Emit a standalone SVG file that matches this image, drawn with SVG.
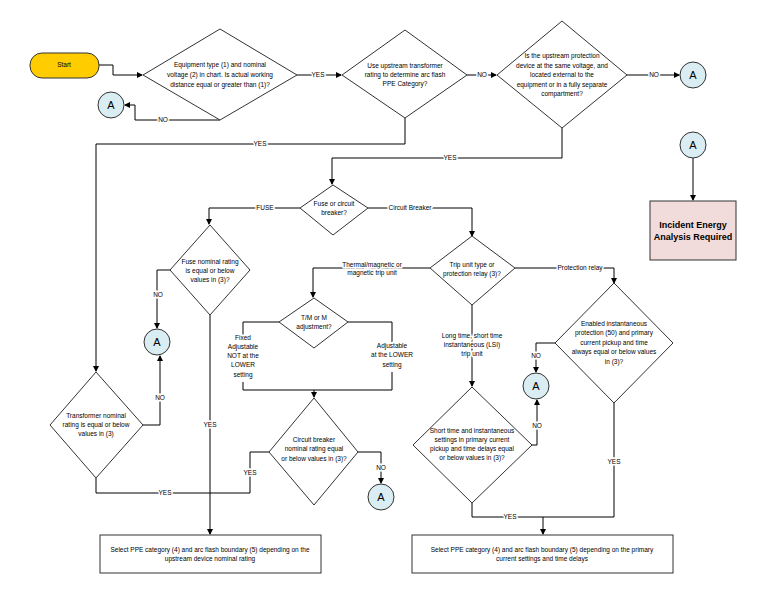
<svg xmlns="http://www.w3.org/2000/svg" width="768" height="594" viewBox="0 0 768 594">
<defs>
<marker id="ar" markerWidth="6" markerHeight="6" refX="5" refY="3" orient="auto" markerUnits="userSpaceOnUse"><path d="M0,0 L6,3 L0,6 z" fill="#000"/></marker>
<style>
.s{fill:#fff;stroke:#333;stroke-width:1}
.c{fill:#d9edf3;stroke:#333;stroke-width:1}
.l{fill:none;stroke:#000;stroke-width:1;marker-end:url(#ar)}
.n{fill:none;stroke:#000;stroke-width:1}
text{font-family:"Liberation Sans",Arial,sans-serif;font-size:6.5px;text-anchor:middle;fill:#000}
.a{font-size:11px}
.lb{paint-order:stroke;stroke:#fff;stroke-width:3px}
.b{font-weight:bold;font-size:9px}
</style>
</defs>
<rect width="768" height="594" fill="#fff"/>
<g id="connectors">
<path class="l" d="M99,65 H113 V75 H142"/>
<path class="l" d="M220,120 H135 V105 H125"/>
<path class="l" d="M297,75 H341"/>
<path class="l" d="M405,118 V144 H96 V371"/>
<path class="l" d="M467,75 H496"/>
<path class="l" d="M627,75 H679"/>
<path class="l" d="M562,128 V158 H332 V184"/>
<path class="l" d="M693,158 V200"/>
<path class="l" d="M300,208 H209 V224"/>
<path class="l" d="M368,208 H472 V236"/>
<path class="l" d="M170,270 H157 V328"/>
<path class="l" d="M143,425 H160 V356"/>
<path class="l" d="M210,315 V534"/>
<path class="n" d="M96,478 V493 H250 V452 H269"/>
<path class="l" d="M358,452 H381 V483"/>
<path class="l" d="M430,268 H313 V297"/>
<path class="l" d="M515,268 H614 V283"/>
<path class="n" d="M279,322 H243 V340"/>
<path class="n" d="M348,322 H392 V342"/>
<path class="n" d="M243,382 V390 H392 V372"/>
<path class="l" d="M314,390 V397"/>
<path class="l" d="M472,305 V386"/>
<path class="l" d="M532,445 H537 V400"/>
<path class="l" d="M555,343 H536 V372"/>
<path class="n" d="M614,403 V517 H472 V503"/>
<path class="l" d="M543,517 V534"/>
<text x="318" y="77" class="lb">YES</text>
<text x="482" y="77" class="lb">NO</text>
<text x="654" y="77" class="lb">NO</text>
<text x="163" y="122" class="lb">NO</text>
<text x="260" y="146" class="lb">YES</text>
<text x="450" y="160" class="lb">YES</text>
<text x="265" y="210" class="lb">FUSE</text>
<text x="410" y="210" class="lb">Circuit Breaker</text>
<text x="580" y="270" class="lb">Protection relay</text>
<text x="372" y="267" class="lb">Thermal/magnetic or</text>
<text x="372" y="275" class="lb">magnetic trip unit</text>
<text x="158" y="297" class="lb">NO</text>
<text x="160" y="400" class="lb">NO</text>
<text x="210" y="427" class="lb">YES</text>
<text x="165" y="495" class="lb">YES</text>
<text x="250" y="475" class="lb">YES</text>
<text x="381" y="470" class="lb">NO</text>
<text x="243" y="340" class="lb">Fixed</text>
<text x="243" y="349" class="lb">Adjustable</text>
<text x="243" y="358" class="lb">NOT at the</text>
<text x="243" y="367" class="lb">LOWER</text>
<text x="243" y="377" class="lb">setting</text>
<text x="392" y="348" class="lb">Adjustable</text>
<text x="392" y="357" class="lb">at the LOWER</text>
<text x="392" y="367" class="lb">setting</text>
<text x="472" y="338" class="lb">Long time, short time</text>
<text x="472" y="347" class="lb">instantaneous (LSI)</text>
<text x="472" y="356" class="lb">trip unit</text>
<text x="536" y="358" class="lb">NO</text>
<text x="537" y="428" class="lb">NO</text>
<text x="614" y="464" class="lb">YES</text>
<text x="510" y="519" class="lb">YES</text>
</g>
<g id="start"><rect x="30" y="53" width="69" height="25" rx="12" fill="#ffcc00" stroke="#333"/><text x="64" y="67">Start</text></g>
<g id="d1"><path class="s" d="M220,29 L297,75 L220,120 L143,75 Z"/><text x="220" y="67">Equipment type (1) and nominal</text><text x="220" y="77">voltage (2) in chart. Is actual working</text><text x="220" y="87">distance equal or greater than (1)?</text></g>
<g id="a1"><circle class="c" cx="111" cy="105" r="13"/><text class="a" x="111" y="109">A</text></g>
<g id="d2"><path class="s" d="M405,30 L467,75 L405,118 L342,75 Z"/><text x="405" y="68">Use upstream transformer</text><text x="405" y="77">rating to determine arc flash</text><text x="405" y="86">PPE Category?</text></g>
<g id="d3"><path class="s" d="M562,21 L627,75 L562,128 L497,75 Z"/><text x="562" y="58">Is the upstream protection</text><text x="562" y="68">device at the same voltage, and</text><text x="562" y="77">located external to the</text><text x="562" y="87">equipment or in a fully separate</text><text x="562" y="96">compartment?</text></g>
<g id="a2"><circle class="c" cx="693" cy="75" r="13"/><text class="a" x="693" y="79">A</text></g>
<g id="a3"><circle class="c" cx="693" cy="145" r="13"/><text class="a" x="693" y="149">A</text></g>
<g id="iea"><rect x="650" y="201" width="86" height="59" fill="#f2dcdb" stroke="#333"/><text class="b" x="693" y="228">Incident Energy</text><text class="b" x="693" y="240">Analysis Required</text></g>
<g id="d4"><path class="s" d="M333,185 L368,208 L333,235 L300,208 Z"/><text x="334" y="206">Fuse or circuit</text><text x="334" y="215">breaker?</text></g>
<g id="d5"><path class="s" d="M210,225 L250,270 L210,315 L170,270 Z"/><text x="210" y="264">Fuse nominal rating</text><text x="210" y="273">is equal or below</text><text x="210" y="282">values in (3)?</text></g>
<g id="a4"><circle class="c" cx="157" cy="342" r="13"/><text class="a" x="157" y="346">A</text></g>
<g id="d6"><path class="s" d="M96,372 L143,425 L96,478 L50,425 Z"/><text x="96" y="418">Transformer nominal</text><text x="96" y="427">rating is equal or below</text><text x="96" y="436">values in (3)</text></g>
<g id="d7"><path class="s" d="M472,236 L515,268 L472,305 L430,268 Z"/><text x="472" y="267">Trip unit type or</text><text x="472" y="276">protection relay (3)?</text></g>
<g id="d8"><path class="s" d="M314,298 L348,322 L314,348 L279,322 Z"/><text x="314" y="320">T/M or M</text><text x="314" y="329">adjustment?</text></g>
<g id="d9"><path class="s" d="M314,398 L358,452 L314,505 L269,452 Z"/><text x="314" y="442">Circuit breaker</text><text x="314" y="451">nominal rating equal</text><text x="314" y="461">or below values in (3)?</text></g>
<g id="a5"><circle class="c" cx="381" cy="497" r="13"/><text class="a" x="381" y="501">A</text></g>
<g id="d10"><path class="s" d="M472,387 L532,445 L472,503 L413,445 Z"/><text x="472" y="433">Short time and instantaneous</text><text x="472" y="442">settings in primary current</text><text x="472" y="451">pickup and time delays equal</text><text x="472" y="460">or below values in (3)?</text></g>
<g id="a6"><circle class="c" cx="536" cy="386" r="13"/><text class="a" x="536" y="390">A</text></g>
<g id="d11"><path class="s" d="M614,283 L673,343 L614,403 L555,343 Z"/><text x="614" y="326">Enabled instantaneous</text><text x="614" y="335">protection (50) and primary</text><text x="614" y="345">current pickup and time</text><text x="614" y="354">always equal or below values</text><text x="614" y="364">in (3)?</text></g>
<g id="box1"><rect class="s" x="100" y="535" width="221" height="38"/><text x="210" y="552">Select PPE category (4) and arc flash boundary (5) depending on the</text><text x="210" y="561">upstream device nominal rating</text></g>
<g id="box2"><rect class="s" x="412" y="535" width="261" height="38"/><text x="542" y="552">Select PPE category (4) and arc flash boundary (5) depending on the primary</text><text x="542" y="561">current settings and time delays</text></g>
</svg>
